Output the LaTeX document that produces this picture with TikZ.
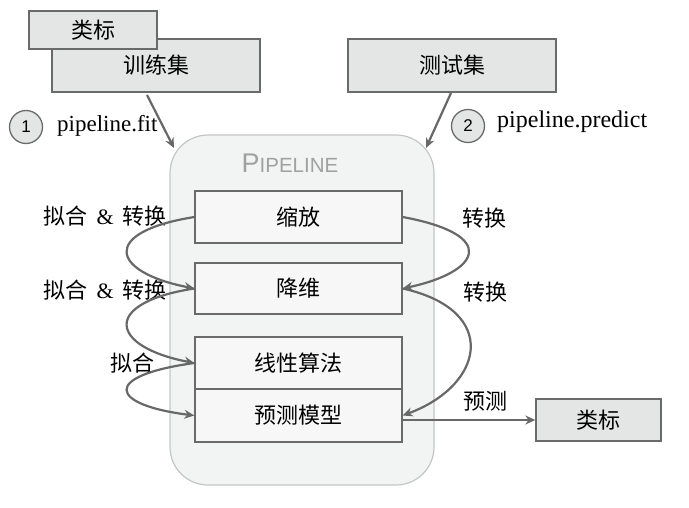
\documentclass[tikz,border=0pt]{standalone}
\usepackage{fontspec}
\setmainfont{Liberation Serif}
\newfontfamily\cjk{Noto Sans CJK SC}
\newfontfamily\lsans{Liberation Sans}
\usetikzlibrary{arrows.meta}
\definecolor{boxfill}{HTML}{E4E6E6}
\definecolor{innerfill}{HTML}{F7F7F7}
\definecolor{pipefill}{HTML}{F2F4F4}
\definecolor{pipedraw}{HTML}{C4C6C6}
\definecolor{edgecol}{HTML}{6A6A6A}
\definecolor{arrcol}{HTML}{686868}
\definecolor{titlecol}{HTML}{A0A0A0}
\tikzset{
  outbox/.style={draw=edgecol, fill=boxfill, line width=1.3pt, inner sep=0pt, font=\cjk\fontsize{22}{25}\selectfont},
  inbox/.style={draw=edgecol, fill=innerfill, line width=1.3pt, inner sep=0pt, minimum width=207pt, font=\cjk\fontsize{22}{25}\selectfont},
  conn/.style={draw=arrcol, line width=2.2pt, -{Stealth[length=10pt,width=9pt]}},
  lbl/.style={font=\cjk\fontsize{22}{25}\selectfont, inner sep=0pt},
  numc/.style={circle, draw=edgecol, fill=boxfill, line width=1.3pt, minimum size=33pt, inner sep=0pt, font=\lsans\fontsize{17}{20}\selectfont}
}
\begin{document}
\begin{tikzpicture}[x=1pt,y=-1pt]
\useasboundingbox (0,0) rectangle (689,508);
% outer boxes
\node[outbox, minimum width=208pt, minimum height=53pt] (train) at (156,65.5) {训练集};
\node[outbox, minimum width=128pt, minimum height=38pt] (lab1) at (93,30) {类标};
\node[outbox, minimum width=208pt, minimum height=53pt] (test) at (452,65.5) {测试集};
% pipeline container
\node[draw=pipedraw, fill=pipefill, line width=1.2pt, rounded corners=38pt, minimum width=264pt, minimum height=350pt, inner sep=0pt] (pipe) at (302,310) {};
\node[inner sep=0pt, text=titlecol, font=\lsans] (ptitle) at (290,163) {\fontsize{27}{30}\selectfont P\fontsize{20.5}{24}\selectfont IPELINE};
% inner boxes
\node[inbox, minimum height=52pt] (scale) at (298.5,217) {缩放};
\node[inbox, minimum height=51pt] (dim) at (298.5,288.5) {降维};
\node[inbox, minimum height=52pt] (lin) at (298.5,363) {线性算法};
\node[inbox, minimum height=53pt] (pred) at (298.5,415.5) {预测模型};
% output label box
\node[outbox, minimum width=125pt, minimum height=42pt] (lab2) at (598.5,420) {类标};
% numbered circles and method labels
\node[numc] (c1) at (26,127) {1};
\node[anchor=west, inner sep=0pt, font=\fontsize{23}{26}\selectfont] (fit) at (57,126) {pipeline.fit};
\node[numc] (c2) at (468,126) {2};
\node[anchor=west, inner sep=0pt, font=\fontsize{24}{28}\selectfont] (predict) at (497,122) {pipeline.predict};
% input arrows
\coordinate (a1s) at (147,95);
\coordinate (a1e) at (174,148);
\coordinate (a2s) at (451,93);
\coordinate (a2e) at (426,148);
\draw[conn] (a1s) -- (a1e);
\draw[conn] (a2s) -- (a2e);
% left labels
\node[lbl, anchor=east] (l1) at (167,216) {拟合\hspace{9pt}{\rmfamily\&}\hspace{9pt}转换};
\node[lbl, anchor=east] (l2) at (167,290) {拟合\hspace{9pt}{\rmfamily\&}\hspace{9pt}转换};
\node[lbl, anchor=east] (l3) at (155,363) {拟合};
% right labels
\node[lbl, anchor=west] (r1) at (462,218) {转换};
\node[lbl, anchor=west] (r2) at (463,292) {转换};
\node[lbl, anchor=west] (r3) at (463,401) {预测};
% left curves
\draw[conn] (scale.west) .. controls (100,232) and (110,272) .. (dim.west);
\draw[conn] (dim.west) .. controls (100,303) and (110,347) .. (lin.west);
\draw[conn] (lin.west) .. controls (100,376) and (110,405) .. (pred.west);
% right curves
\draw[conn] (scale.east) .. controls (500,235) and (480,272) .. (dim.east);
\draw[conn] (dim.east) .. controls (500,310) and (485,385) .. (pred.east);
% output arrow
\draw[conn] (pred.east |- lab2.west) -- (lab2.west);
\end{tikzpicture}
\end{document}
